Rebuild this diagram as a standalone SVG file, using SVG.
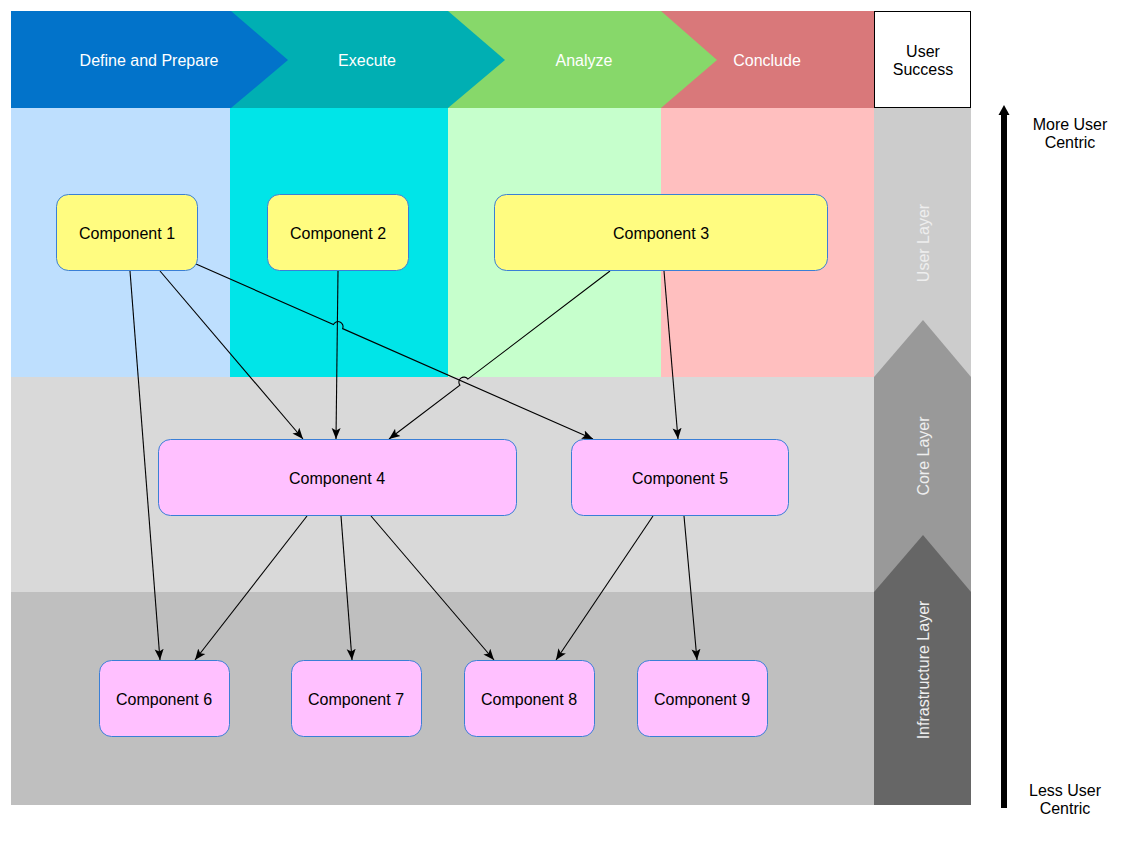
<svg xmlns="http://www.w3.org/2000/svg" width="1133" height="851" viewBox="0 0 1133 851">
<defs>
<marker id="ah" markerUnits="userSpaceOnUse" markerWidth="12" markerHeight="10" viewBox="0 0 12 10" refX="11" refY="5" orient="auto">
<path d="M0,0.5 L11,5 L0,9.5 L2.5,5 Z" fill="#000"/>
</marker>
<style>
text{font-family:"Liberation Sans",Helvetica,Arial,sans-serif;font-size:16px;text-anchor:middle}
.w{fill:#ffffff}
.lay{fill:#eeeeee}
.node rect{stroke:#3A7FD6;stroke-width:1}
.y{fill:#FFFC80}
.p{fill:#FFC0FF}
.e{fill:none;stroke:#000;stroke-width:1.1;marker-end:url(#ah)}
</style>
</defs>
<rect x="0" y="0" width="1133" height="851" fill="#fff"/>
<g id="background">
<rect x="11" y="108" width="220" height="270" fill="#BEDFFE"/>
<rect x="230" y="108" width="218" height="270" fill="#00E5E8"/>
<rect x="448" y="108" width="213" height="270" fill="#C6FFCC"/>
<rect x="661" y="108" width="213" height="270" fill="#FFBFBF"/>
<rect x="11" y="377" width="863" height="215" fill="#D9D9D9"/>
<rect x="11" y="592" width="863" height="213" fill="#BFBFBF"/>
</g>
<g id="phases">
<g id="conclude"><rect x="661" y="11" width="213" height="97" fill="#D9787A"/><text class="w" x="767" y="66">Conclude</text></g>
<g id="analyze"><polygon points="448,11 661,11 717,60 661,108 448,108" fill="#87D86A"/><text class="w" x="584" y="66">Analyze</text></g>
<g id="execute"><polygon points="231,11 448,11 505,60 448,108 231,108" fill="#00AFB3"/><text class="w" x="367" y="66">Execute</text></g>
<g id="define"><polygon points="11,11 231,11 288,60 231,108 11,108" fill="#0273CA"/><text class="w" x="149" y="66">Define and Prepare</text></g>
<g id="user-success"><rect x="874.5" y="11.5" width="96" height="96" fill="#fff" stroke="#000" stroke-width="1"/><text x="923" y="57">User</text><text x="923" y="75">Success</text></g>
</g>
<g id="layers">
<g id="user-layer"><rect x="874" y="108" width="97" height="270" fill="#CCCCCC"/><text class="lay" transform="translate(928.5,243) rotate(-90)">User Layer</text></g>
<g id="core-layer"><polygon points="874,377 923,320 971,377 971,592 874,592" fill="#999999"/><text class="lay" transform="translate(928.5,456) rotate(-90)">Core Layer</text></g>
<g id="infra-layer"><polygon points="874,592 923,535 971,592 971,805 874,805" fill="#666666"/><text class="lay" transform="translate(928.5,670) rotate(-90)">Infrastructure Layer</text></g>
</g>
<g id="axis">
<rect x="1001" y="114" width="6" height="694" fill="#000"/>
<polygon points="1004,105 1009.5,115 998.5,115" fill="#000"/>
<text x="1070" y="130">More User</text><text x="1070" y="148">Centric</text>
<text x="1065" y="796">Less User</text><text x="1065" y="814">Centric</text>
</g>
<g id="connectors">
<path class="e" d="M130,271 L160,660"/>
<path class="e" d="M160,271 L303,439"/>
<path class="e" d="M196,264 L333.4,324.6 A5,5 0 0 1 342.6,328.6 L593,439"/>
<path class="e" d="M338,271 L336,439"/>
<path class="e" d="M610,271 L467.9,379.1 A5,5 0 0 0 459.9,385.1 L389,439"/>
<path class="e" d="M664,271 L678,439"/>
<path class="e" d="M307,516 L195,660"/>
<path class="e" d="M341,516 L352,660"/>
<path class="e" d="M371,516 L494,660"/>
<path class="e" d="M653,516 L556,660"/>
<path class="e" d="M684,516 L697,660"/>
</g>
<g id="c1" class="node"><rect class="y" x="56.5" y="194.5" width="141" height="76" rx="12"/><text x="127" y="239">Component 1</text></g>
<g id="c2" class="node"><rect class="y" x="267.5" y="194.5" width="141" height="76" rx="12"/><text x="338" y="239">Component 2</text></g>
<g id="c3" class="node"><rect class="y" x="494.5" y="194.5" width="333" height="76" rx="12"/><text x="661" y="239">Component 3</text></g>
<g id="c4" class="node"><rect class="p" x="158.5" y="439.5" width="358" height="76" rx="12"/><text x="337" y="484">Component 4</text></g>
<g id="c5" class="node"><rect class="p" x="571.5" y="439.5" width="217" height="76" rx="12"/><text x="680" y="484">Component 5</text></g>
<g id="c6" class="node"><rect class="p" x="99.5" y="660.5" width="130" height="76" rx="12"/><text x="164" y="705">Component 6</text></g>
<g id="c7" class="node"><rect class="p" x="291.5" y="660.5" width="130" height="76" rx="12"/><text x="356" y="705">Component 7</text></g>
<g id="c8" class="node"><rect class="p" x="464.5" y="660.5" width="130" height="76" rx="12"/><text x="529" y="705">Component 8</text></g>
<g id="c9" class="node"><rect class="p" x="637.5" y="660.5" width="130" height="76" rx="12"/><text x="702" y="705">Component 9</text></g>
</svg>
